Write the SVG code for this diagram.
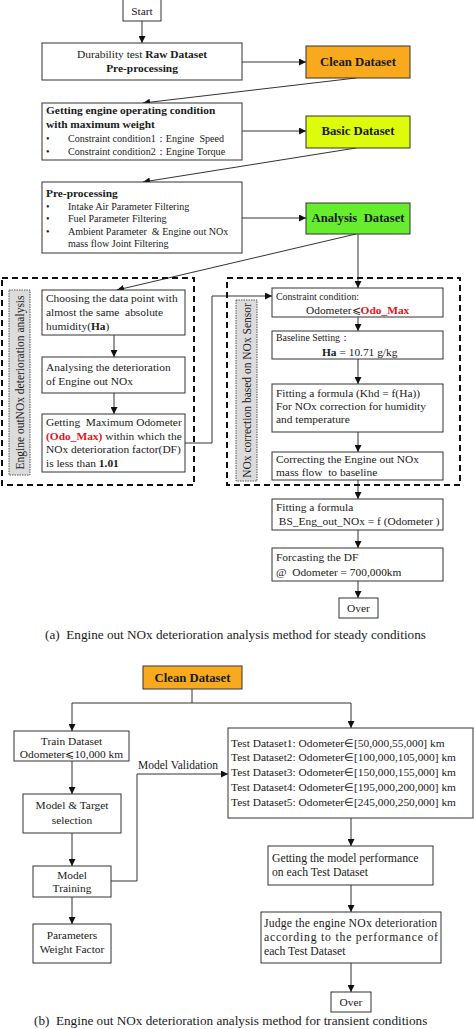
<svg xmlns="http://www.w3.org/2000/svg" width="474" height="1029" viewBox="0 0 474 1029">
<style>
text{font-family:"Liberation Serif","Times New Roman",serif;font-size:11.4px;fill:#1a1a1a;white-space:pre}
.b{font-weight:bold}
.r{font-weight:bold;fill:#e8141b}
.s{font-size:9.8px}
.u{font-size:10.1px}
.m{text-anchor:middle}
.t{font-size:12.7px;font-weight:bold}
.p{font-size:11.7px}
.cap{font-size:13.2px}
.box{fill:#fff;stroke:#333;stroke-width:1}
.dash{fill:none;stroke:#111;stroke-width:2;stroke-dasharray:6 4}
.lab{fill:#dcdcdc;stroke:#555;stroke-width:1;stroke-dasharray:1.5 1}
.vl{font-size:11.5px}
.ln{fill:none;stroke:#333;stroke-width:1}
.arr{fill:none;stroke:#333;stroke-width:1;marker-end:url(#ah)}
</style>
<defs>
<marker id="ah" viewBox="0 0 10 10" refX="10" refY="5" markerWidth="7" markerHeight="7" markerUnits="userSpaceOnUse" orient="auto"><path d="M0,0 L10,5 L0,10 z" fill="#111"/></marker>
</defs>
<rect width="474" height="1029" fill="#fff"/>

<g id="connectors">
<line class="arr" x1="142" y1="21" x2="142" y2="43"/>
<line class="arr" x1="242" y1="62" x2="306" y2="62"/>
<line class="arr" x1="356" y1="78" x2="143" y2="103"/>
<line class="arr" x1="242" y1="131" x2="306" y2="131"/>
<line class="arr" x1="356" y1="148" x2="143" y2="182"/>
<line class="arr" x1="242" y1="218" x2="306" y2="218"/>
<line class="arr" x1="356" y1="234" x2="117" y2="290"/>
<line class="arr" x1="358" y1="234" x2="358" y2="288"/>
<line class="arr" x1="114" y1="335" x2="114" y2="357"/>
<line class="arr" x1="114" y1="393" x2="114" y2="414"/>
<polyline class="arr" points="185,443 212,443 212,296 272,296"/>
<line class="arr" x1="358" y1="317" x2="358" y2="331"/>
<line class="arr" x1="358" y1="359" x2="358" y2="384"/>
<line class="arr" x1="358" y1="432" x2="358" y2="452"/>
<line class="arr" x1="358" y1="480" x2="358" y2="499"/>
<line class="arr" x1="358" y1="530" x2="358" y2="548"/>
<line class="arr" x1="358" y1="581" x2="358" y2="598"/>

<path class="ln" d="M192,689 V703 M72,703 H351"/>
<line class="arr" x1="72" y1="703" x2="72" y2="731"/>
<line class="arr" x1="351" y1="703" x2="351" y2="728"/>
<line class="arr" x1="72" y1="761" x2="72" y2="794"/>
<line class="arr" x1="72" y1="833" x2="72" y2="866"/>
<line class="arr" x1="72" y1="897" x2="72" y2="924"/>
<polyline class="arr" points="111,881 137,881 137,774 228,774"/>
<line class="arr" x1="351" y1="818" x2="351" y2="846"/>
<line class="arr" x1="351" y1="885" x2="351" y2="912"/>
<line class="arr" x1="351" y1="963" x2="351" y2="992"/>
<text x="138" y="769" style="font-size:11.5px">Model Validation</text>
</g>

<g id="start"><rect class="box" x="123" y="-1" width="38" height="22"/><text class="m" x="142" y="15">Start</text></g>

<g id="raw"><rect class="box" x="42" y="43" width="200" height="37"/>
<text class="m" x="142" y="58">Durability test <tspan class="b">Raw Dataset</tspan></text>
<text class="m b" x="142" y="72">Pre-processing</text></g>

<g id="clean"><rect class="box" x="306" y="46" width="104" height="32" style="fill:#f8a91e"/><text class="m t" x="358" y="66">Clean Dataset</text></g>

<g id="getting"><rect class="box" x="42" y="103" width="200" height="57"/>
<text class="b" x="46" y="114">Getting engine operating condition</text>
<text class="b" x="46" y="128">with maximum weight</text>
<text class="u" x="46" y="142">•</text><text class="u" x="68" y="142">Constraint condition1：Engine  Speed</text>
<text class="u" x="46" y="155">•</text><text class="u" x="68" y="155">Constraint condition2：Engine Torque</text></g>

<g id="basic"><rect class="box" x="306" y="116" width="104" height="32" style="fill:#dcfc0c"/><text class="m t" x="358" y="135">Basic Dataset</text></g>

<g id="prep"><rect class="box" x="42" y="182" width="200" height="71"/>
<text class="b" x="46" y="197">Pre-processing</text>
<text class="u" x="46" y="210">•</text><text class="u" x="68" y="210">Intake Air Parameter Filtering</text>
<text class="u" x="46" y="222">•</text><text class="u" x="68" y="222">Fuel Parameter Filtering</text>
<text class="u" x="46" y="235">•</text><text class="u" x="68" y="235">Ambient Parameter  &amp; Engine out NOx</text>
<text class="u" x="68" y="247">mass flow Joint Filtering</text></g>

<g id="analysis"><rect class="box" x="306" y="203" width="104" height="31" style="fill:#66ee2e"/><text class="m t" x="358" y="222">Analysis  Dataset</text></g>

<g id="left-group">
<rect class="dash" x="2" y="278" width="192" height="207"/>
<rect class="lab" x="9" y="290" width="21" height="185"/>
<text class="m vl" transform="translate(23.5,382.5) rotate(-90)">Engine outNOx deterioration analysis</text>
</g>

<g id="choosing"><rect class="box" x="42" y="290" width="143" height="45"/>
<text x="46" y="302">Choosing the data point with</text>
<text x="46" y="316">almost the same  absolute</text>
<text x="46" y="330">humidity(<tspan class="b">Ha</tspan>)</text></g>

<g id="analysing"><rect class="box" x="42" y="357" width="143" height="36"/>
<text x="46" y="371">Analysing the deterioration</text>
<text x="46" y="385">of Engine out NOx</text></g>

<g id="getmax"><rect class="box" x="42" y="414" width="143" height="58"/>
<text x="46" y="426">Getting  Maximum Odometer</text>
<text x="46" y="440"><tspan class="r">(Odo_Max)</tspan> within which the</text>
<text x="46" y="453">NOx deterioration factor(DF)</text>
<text x="46" y="467">is less than <tspan class="b">1.01</tspan></text></g>

<g id="right-group">
<rect class="dash" x="227" y="278" width="233" height="207"/>
<rect class="lab" x="236" y="300" width="21" height="181"/>
<text class="m vl" transform="translate(250.5,390.5) rotate(-90)">NOx correction based on NOx Sensor</text>
</g>

<g id="constraint"><rect class="box" x="272" y="288" width="171" height="29"/>
<text class="s" x="276" y="300">Constraint condition:</text>
<text x="306" y="314">Odometer⩽<tspan class="r">Odo_Max</tspan></text></g>

<g id="baseline"><rect class="box" x="272" y="331" width="171" height="28"/>
<text class="s" x="276" y="341">Baseline Setting：</text>
<text x="322" y="356"><tspan class="b">Ha</tspan> = 10.71 g/kg</text></g>

<g id="fitting1"><rect class="box" x="272" y="384" width="171" height="48"/>
<text x="276" y="397">Fitting a formula (Khd = f(Ha))</text>
<text x="276" y="410">For NOx correction for humidity</text>
<text x="276" y="423">and temperature</text></g>

<g id="correcting"><rect class="box" x="272" y="452" width="171" height="28"/>
<text x="276" y="463">Correcting the Engine out NOx</text>
<text x="276" y="476">mass flow  to baseline</text></g>

<g id="fitting2"><rect class="box" x="272" y="499" width="171" height="31"/>
<text x="276" y="511">Fitting a formula</text>
<text x="276" y="525"> BS_Eng_out_NOx = f (Odometer )</text></g>

<g id="forecast"><rect class="box" x="272" y="548" width="171" height="33"/>
<text x="276" y="561">Forcasting the DF</text>
<text x="276" y="576">@  Odometer = 700,000km</text></g>

<g id="over-a"><rect class="box" x="339" y="598" width="39" height="20"/><text class="m" x="358.5" y="612">Over</text></g>

<text class="cap" x="45" y="639">(a)  Engine out NOx deterioration analysis method for steady conditions</text>

<g id="clean-b"><rect class="box" x="143" y="666" width="99" height="23" style="fill:#f8a91e"/><text class="m t" x="192.5" y="682">Clean Dataset</text></g>

<g id="train"><rect class="box" x="14" y="731" width="115" height="30"/>
<text class="m" x="71.5" y="745">Train Dataset</text>
<text class="m" x="71.5" y="758">Odometer⩽10,000 km</text></g>

<g id="tests"><rect class="box" x="228" y="728" width="245" height="90"/>
<text x="231" y="747">Test Dataset1: Odometer∈[50,000,55,000] km</text>
<text x="231" y="761">Test Dataset2: Odometer∈[100,000,105,000] km</text>
<text x="231" y="776">Test Dataset3: Odometer∈[150,000,155,000] km</text>
<text x="231" y="791">Test Dataset4: Odometer∈[195,000,200,000] km</text>
<text x="231" y="806">Test Dataset5: Odometer∈[245,000,250,000] km</text></g>

<g id="model-target"><rect class="box" x="23" y="794" width="98" height="39"/>
<text class="m" x="72" y="809">Model &amp; Target</text>
<text class="m" x="72" y="824">selection</text></g>

<g id="model-training"><rect class="box" x="33" y="866" width="78" height="31"/>
<text class="m" x="72" y="879">Model</text>
<text class="m" x="72" y="892">Training</text></g>

<g id="params"><rect class="box" x="33" y="924" width="78" height="39"/>
<text class="m" x="72" y="939">Parameters</text>
<text class="m" x="72" y="953">Weight Factor</text></g>

<g id="perf"><rect class="box" x="268" y="846" width="165" height="39"/>
<text class="p" x="272" y="862">Getting the model performance</text>
<text class="p" x="272" y="876">on each Test Dataset</text></g>

<g id="judge"><rect class="box" x="261" y="912" width="180" height="51"/>
<text class="p" x="264" y="927" textLength="173" lengthAdjust="spacing">Judge the engine NOx deterioration</text>
<text class="p" x="264" y="941" textLength="174" lengthAdjust="spacing">according to the performance of</text>
<text class="p" x="264" y="955">each Test Dataset</text></g>

<g id="over-b"><rect class="box" x="331" y="992" width="40" height="20"/><text class="m" x="351" y="1006">Over</text></g>

<text class="cap" x="34" y="1025">(b)  Engine out NOx deterioration analysis method for transient conditions</text>
</svg>
